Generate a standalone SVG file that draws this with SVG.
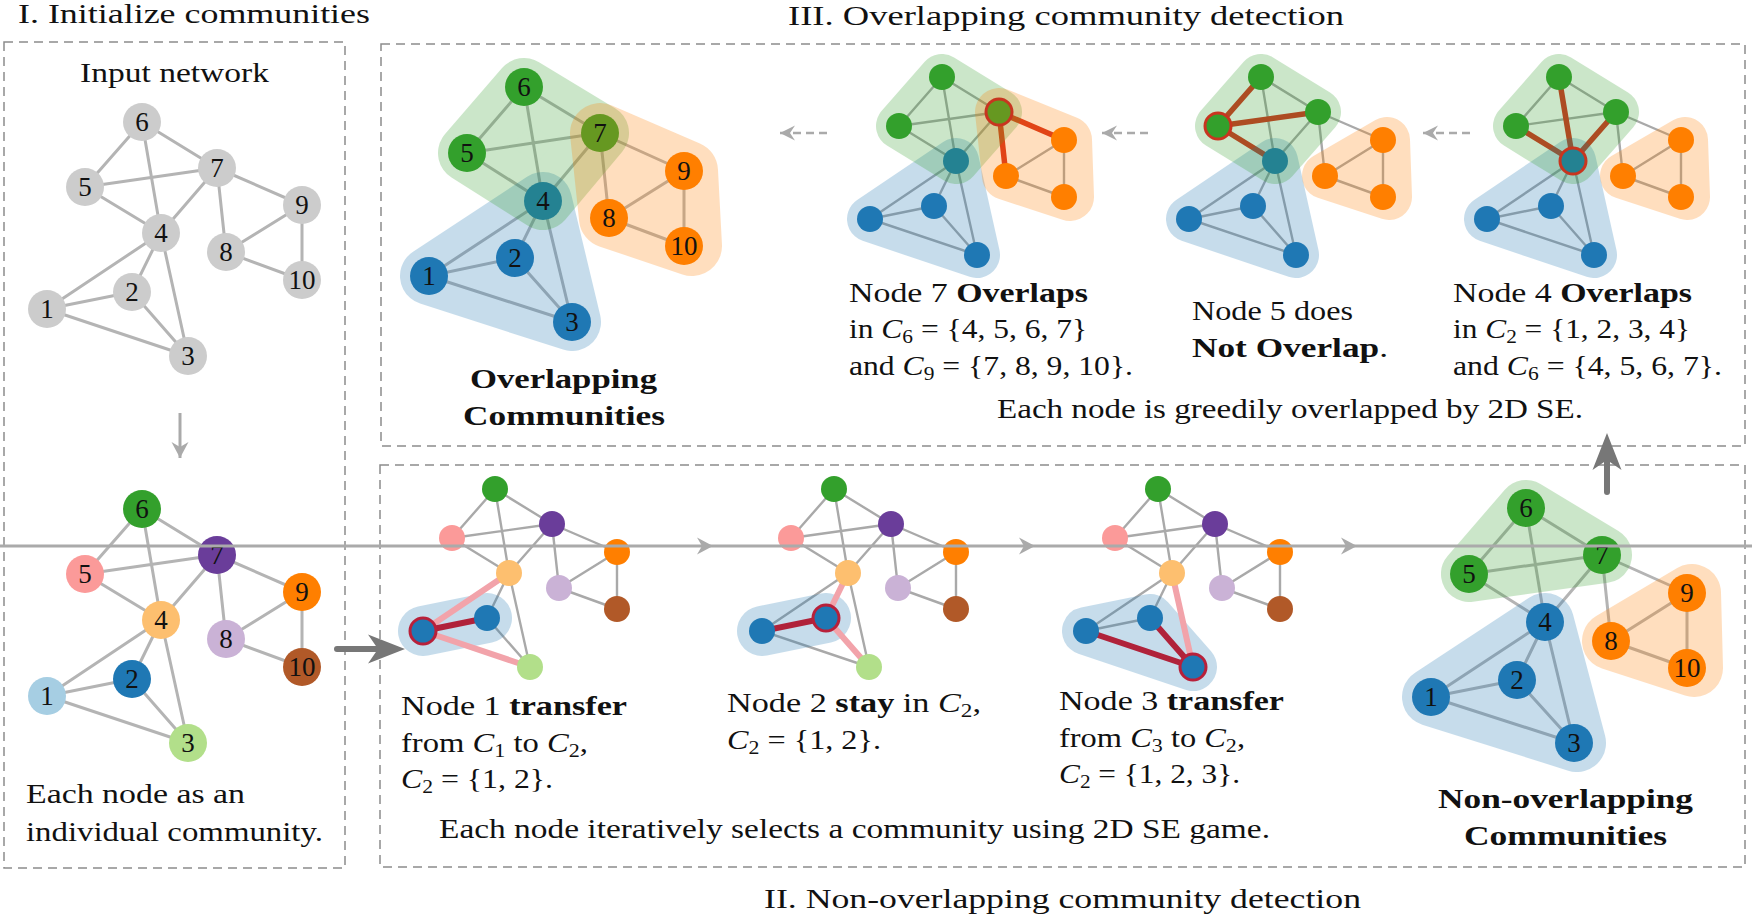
<svg xmlns="http://www.w3.org/2000/svg" width="1752" height="916" viewBox="0 0 1752 916">
<defs>
<style>
.box{fill:none;stroke:#8c8c8c;stroke-width:1.5;stroke-dasharray:9 6}
.e{fill:none;stroke:#b4b4b4;stroke-width:3;stroke-linecap:round}
.es{fill:none;stroke:#a9a9a9;stroke-width:2.4;stroke-linecap:round}
.hr{fill:none;stroke:#d7301f;stroke-width:5.5;stroke-linecap:round}
.pk{fill:none;stroke:#f2a3aa;stroke-width:6;stroke-linecap:round}
.dk{fill:none;stroke:#b0223a;stroke-width:6;stroke-linecap:round}
.hb,.hg,.ho{opacity:.25}
.hb path{fill:#1f78b4;stroke:#1f78b4;stroke-linejoin:round;stroke-linecap:round}
.hg path{fill:#33a02c;stroke:#33a02c;stroke-linejoin:round;stroke-linecap:round}
.ho path{fill:#ff7f00;stroke:#ff7f00;stroke-linejoin:round;stroke-linecap:round}
.sel{stroke:#c8351f;stroke-width:3}
.sel2{stroke:#b8203a;stroke-width:3}
.lbl{font-family:"Liberation Serif","Times New Roman",serif;font-size:27px;text-anchor:middle;fill:#111}
.t{font-family:"Liberation Serif","Times New Roman",serif;font-size:28px;fill:#111}
.b{font-weight:bold}
.i{font-style:italic}
.sub{font-size:19px}
.conn{fill:none;stroke:#aaaaaa;stroke-width:3}
.dash{fill:none;stroke:#aaaaaa;stroke-width:2.5;stroke-dasharray:8 5}
.thick{fill:none;stroke:#777777;stroke-width:6;stroke-linecap:round}
.g0{fill:#cccccc}.c1{fill:#a6cee3}.c2{fill:#1f78b4}.c3{fill:#b2df8a}.c4{fill:#fdbf6f}.c5{fill:#fb9a99}
.c6{fill:#33a02c}.c7{fill:#6a3d9a}.c8{fill:#cab2d6}.c9{fill:#ff7f00}.c10{fill:#b15928}
.teal{fill:#248292}.olive{fill:#669821}
</style>
<marker id="stealth" markerUnits="userSpaceOnUse" markerWidth="18" markerHeight="18" refX="16" refY="8.5" orient="auto" overflow="visible"><path d="M0,0 L16,8.5 L0,17 L5,8.5 Z" fill="#aaaaaa"/></marker>
<marker id="dhead" markerUnits="userSpaceOnUse" markerWidth="16" markerHeight="16" refX="15" refY="7.5" orient="auto" overflow="visible"><path d="M0,0 L15,7.5 L0,15 L5,7.5 Z" fill="#aaaaaa"/></marker>
<marker id="big" markerUnits="userSpaceOnUse" markerWidth="40" markerHeight="30" refX="27" refY="14.5" orient="auto" overflow="visible"><path d="M0,0 L37,14.5 L0,29 L10,14.5 Z" fill="#777777"/></marker>
</defs>
<rect width="1752" height="916" fill="#ffffff"/>

<g id="frames">
<rect class="box" x="4" y="42" width="341" height="826"/>
<rect class="box" x="381" y="44" width="1364" height="402"/>
<rect class="box" x="380" y="465" width="1365" height="402"/>
</g>

<g id="titles">
<text class="t" x="18" y="23" textLength="352" lengthAdjust="spacingAndGlyphs">I. Initialize communities</text>
<text class="t" x="788" y="25" textLength="556" lengthAdjust="spacingAndGlyphs">III. Overlapping community detection</text>
<text class="t" x="764" y="908" textLength="597" lengthAdjust="spacingAndGlyphs">II. Non-overlapping community detection</text>
</g>

<!-- Input network -->
<g id="input-network">
<text class="t" x="80" y="82" textLength="189" lengthAdjust="spacingAndGlyphs">Input network</text>
<path class="e" d="M142,122L85,187 M142,122L217,168 M142,122L161,233 M85,187L217,168 M85,187L161,233 M217,168L161,233 M217,168L302,205 M217,168L226,252 M302,205L226,252 M302,205L302,280 M226,252L302,280 M161,233L47,309 M161,233L132,292 M161,233L188,356 M47,309L132,292 M47,309L188,356 M132,292L188,356"/>
<g id="in-n1"><circle class="g0" cx="47" cy="309" r="19"/><text class="lbl" x="47" y="318">1</text></g>
<g id="in-n2"><circle class="g0" cx="132" cy="292" r="19"/><text class="lbl" x="132" y="301">2</text></g>
<g id="in-n3"><circle class="g0" cx="188" cy="356" r="19"/><text class="lbl" x="188" y="365">3</text></g>
<g id="in-n4"><circle class="g0" cx="161" cy="233" r="19"/><text class="lbl" x="161" y="242">4</text></g>
<g id="in-n5"><circle class="g0" cx="85" cy="187" r="19"/><text class="lbl" x="85" y="196">5</text></g>
<g id="in-n6"><circle class="g0" cx="142" cy="122" r="19"/><text class="lbl" x="142" y="131">6</text></g>
<g id="in-n7"><circle class="g0" cx="217" cy="168" r="19"/><text class="lbl" x="217" y="177">7</text></g>
<g id="in-n8"><circle class="g0" cx="226" cy="252" r="19"/><text class="lbl" x="226" y="261">8</text></g>
<g id="in-n9"><circle class="g0" cx="302" cy="205" r="19"/><text class="lbl" x="302" y="214">9</text></g>
<g id="in-n10"><circle class="g0" cx="302" cy="280" r="19"/><text class="lbl" x="302" y="289">10</text></g>
</g>

<!-- Initial communities -->
<g id="init-communities">
<path class="e" d="M142,509L85,574 M142,509L217,555 M142,509L161,620 M85,574L217,555 M85,574L161,620 M217,555L161,620 M217,555L302,592 M217,555L226,639 M302,592L226,639 M302,592L302,667 M226,639L302,667 M161,620L47,696 M161,620L132,679 M161,620L188,743 M47,696L132,679 M47,696L188,743 M132,679L188,743"/>
<g id="ini-n1"><circle class="c1" cx="47" cy="696" r="19"/><text class="lbl" x="47" y="705">1</text></g>
<g id="ini-n2"><circle class="c2" cx="132" cy="679" r="19"/><text class="lbl" x="132" y="688">2</text></g>
<g id="ini-n3"><circle class="c3" cx="188" cy="743" r="19"/><text class="lbl" x="188" y="752">3</text></g>
<g id="ini-n4"><circle class="c4" cx="161" cy="620" r="19"/><text class="lbl" x="161" y="629">4</text></g>
<g id="ini-n5"><circle class="c5" cx="85" cy="574" r="19"/><text class="lbl" x="85" y="583">5</text></g>
<g id="ini-n6"><circle class="c6" cx="142" cy="509" r="19"/><text class="lbl" x="142" y="518">6</text></g>
<g id="ini-n7"><circle class="c7" cx="217" cy="555" r="19"/><text class="lbl" x="217" y="564">7</text></g>
<g id="ini-n8"><circle class="c8" cx="226" cy="639" r="19"/><text class="lbl" x="226" y="648">8</text></g>
<g id="ini-n9"><circle class="c9" cx="302" cy="592" r="19"/><text class="lbl" x="302" y="601">9</text></g>
<g id="ini-n10"><circle class="c10" cx="302" cy="667" r="19"/><text class="lbl" x="302" y="676">10</text></g>
<text class="t" x="26" y="803" textLength="219" lengthAdjust="spacingAndGlyphs">Each node as an</text>
<text class="t" x="26" y="841" textLength="297" lengthAdjust="spacingAndGlyphs">individual community.</text>
</g>

<!-- Overlapping communities (final) -->
<g id="overlapping-result">
<path class="e" d="M524,87L467,153 M524,87L600,133 M524,87L543,201 M467,153L600,133 M467,153L543,201 M600,133L543,201 M600,133L684,171 M600,133L609,218 M684,171L609,218 M684,171L684,246 M609,218L684,246 M543,201L429,276 M543,201L515,258 M543,201L572,322 M429,276L515,258 M429,276L572,322 M515,258L572,322"/>
<g class="hb"><path d="M429,276 L543,201 L572,322 Z" stroke-width="58"/></g>
<g class="hg"><path d="M524,87 L600,133 L543,201 L467,153 Z" stroke-width="58"/></g>
<g class="ho"><path d="M600,133 L688,171 L692,246 L609,218 Z" stroke-width="60"/></g>
<g id="ov-n1"><circle class="c2" cx="429" cy="276" r="19"/><text class="lbl" x="429" y="285">1</text></g>
<g id="ov-n2"><circle class="c2" cx="515" cy="258" r="19"/><text class="lbl" x="515" y="267">2</text></g>
<g id="ov-n3"><circle class="c2" cx="572" cy="322" r="19"/><text class="lbl" x="572" y="331">3</text></g>
<g id="ov-n4"><circle class="teal" cx="543" cy="201" r="19"/><text class="lbl" x="543" y="210" fill="#1c3a3a">4</text></g>
<g id="ov-n5"><circle class="c6" cx="467" cy="153" r="19"/><text class="lbl" x="467" y="162">5</text></g>
<g id="ov-n6"><circle class="c6" cx="524" cy="87" r="19"/><text class="lbl" x="524" y="96">6</text></g>
<g id="ov-n7"><circle class="olive" cx="600" cy="133" r="19"/><text class="lbl" x="600" y="142" fill="#2a3a10">7</text></g>
<g id="ov-n8"><circle class="c9" cx="609" cy="218" r="19"/><text class="lbl" x="609" y="227">8</text></g>
<g id="ov-n9"><circle class="c9" cx="684" cy="171" r="19"/><text class="lbl" x="684" y="180">9</text></g>
<g id="ov-n10"><circle class="c9" cx="684" cy="246" r="19"/><text class="lbl" x="684" y="255">10</text></g>
<text class="t b" x="470" y="388" textLength="187" lengthAdjust="spacingAndGlyphs">Overlapping</text>
<text class="t b" x="463" y="425" textLength="202" lengthAdjust="spacingAndGlyphs">Communities</text>
</g>

<!-- Node 7 overlaps -->
<g id="step-node7">
<path class="es" d="M942,77L899,126 M942,77L999,112 M942,77L956,161 M899,126L999,112 M899,126L956,161 M999,112L956,161 M1064,140L1006,176 M1064,140L1064,197 M1006,176L1064,197 M956,161L870,219 M956,161L934,206 M956,161L977,255 M870,219L934,206 M870,219L977,255 M934,206L977,255"/>
<path class="hr" d="M999,112L1064,140 M999,112L1006,176"/>
<g class="hb"><path d="M870,219 L956,161 L977,255 Z" stroke-width="46"/></g>
<g class="hg"><path d="M942,77 L999,112 L956,161 L899,126 Z" stroke-width="46"/></g>
<g class="ho"><path d="M999,112 L1068,140 L1070,197 L1006,176 Z" stroke-width="48"/></g>
<circle id="s7-n1" class="c2" cx="870" cy="219" r="13"/>
<circle id="s7-n2" class="c2" cx="934" cy="206" r="13"/>
<circle id="s7-n3" class="c2" cx="977" cy="255" r="13"/>
<circle id="s7-n4" class="teal" cx="956" cy="161" r="13"/>
<circle id="s7-n5" class="c6" cx="899" cy="126" r="13"/>
<circle id="s7-n6" class="c6" cx="942" cy="77" r="13"/>
<circle id="s7-n7" class="olive sel" cx="999" cy="112" r="13"/>
<circle id="s7-n8" class="c9" cx="1006" cy="176" r="13"/>
<circle id="s7-n9" class="c9" cx="1064" cy="140" r="13"/>
<circle id="s7-n10" class="c9" cx="1064" cy="197" r="13"/>
<text class="t" x="849" y="302" textLength="239" lengthAdjust="spacingAndGlyphs">Node 7 <tspan class="b">Overlaps</tspan></text>
<text class="t" x="849" y="338" textLength="238" lengthAdjust="spacingAndGlyphs">in <tspan class="i">C</tspan><tspan class="sub" dy="5">6</tspan><tspan dy="-5"> = {4, 5, 6, 7}</tspan></text>
<text class="t" x="849" y="375" textLength="284" lengthAdjust="spacingAndGlyphs">and <tspan class="i">C</tspan><tspan class="sub" dy="5">9</tspan><tspan dy="-5"> = {7, 8, 9, 10}.</tspan></text>
</g>

<!-- Node 5 does not overlap -->
<g id="step-node5">
<path class="es" d="M1261,77L1218,126 M1261,77L1318,112 M1261,77L1275,161 M1218,126L1318,112 M1218,126L1275,161 M1318,112L1275,161 M1318,112L1383,140 M1318,112L1325,176 M1383,140L1325,176 M1383,140L1383,197 M1325,176L1383,197 M1275,161L1189,219 M1275,161L1253,206 M1275,161L1296,255 M1189,219L1253,206 M1189,219L1296,255 M1253,206L1296,255"/>
<path class="hr" d="M1218,126L1261,77 M1218,126L1318,112 M1218,126L1275,161"/>
<g class="hb"><path d="M1189,219 L1275,161 L1296,255 Z" stroke-width="46"/></g>
<g class="hg"><path d="M1261,77 L1318,112 L1275,161 L1218,126 Z" stroke-width="46"/></g>
<g class="ho"><path d="M1387,140 L1389,197 L1325,176 Z" stroke-width="46"/></g>
<circle id="s5-n1" class="c2" cx="1189" cy="219" r="13"/>
<circle id="s5-n2" class="c2" cx="1253" cy="206" r="13"/>
<circle id="s5-n3" class="c2" cx="1296" cy="255" r="13"/>
<circle id="s5-n4" class="teal" cx="1275" cy="161" r="13"/>
<circle id="s5-n5" class="c6 sel" cx="1218" cy="126" r="13"/>
<circle id="s5-n6" class="c6" cx="1261" cy="77" r="13"/>
<circle id="s5-n7" class="c6" cx="1318" cy="112" r="13"/>
<circle id="s5-n8" class="c9" cx="1325" cy="176" r="13"/>
<circle id="s5-n9" class="c9" cx="1383" cy="140" r="13"/>
<circle id="s5-n10" class="c9" cx="1383" cy="197" r="13"/>
<text class="t" x="1192" y="320" textLength="161" lengthAdjust="spacingAndGlyphs">Node 5 does</text>
<text class="t" x="1192" y="357" textLength="196" lengthAdjust="spacingAndGlyphs"><tspan class="b">Not Overlap</tspan>.</text>
</g>

<!-- Node 4 overlaps -->
<g id="step-node4">
<path class="es" d="M1559,77L1616,112 M1516,126L1616,112 M1616,112L1681,140 M1616,112L1623,176 M1681,140L1623,176 M1681,140L1681,197 M1623,176L1681,197 M1559,77L1516,126 M1573,161L1487,219 M1573,161L1551,206 M1573,161L1594,255 M1487,219L1551,206 M1487,219L1594,255 M1551,206L1594,255"/>
<path class="hr" d="M1573,161L1559,77 M1573,161L1516,126 M1573,161L1616,112"/>
<g class="hb"><path d="M1487,219 L1573,161 L1594,255 Z" stroke-width="46"/></g>
<g class="hg"><path d="M1559,77 L1616,112 L1573,161 L1516,126 Z" stroke-width="46"/></g>
<g class="ho"><path d="M1685,140 L1687,197 L1623,176 Z" stroke-width="46"/></g>
<circle id="s4-n1" class="c2" cx="1487" cy="219" r="13"/>
<circle id="s4-n2" class="c2" cx="1551" cy="206" r="13"/>
<circle id="s4-n3" class="c2" cx="1594" cy="255" r="13"/>
<circle id="s4-n4" class="teal sel" cx="1573" cy="161" r="13"/>
<circle id="s4-n5" class="c6" cx="1516" cy="126" r="13"/>
<circle id="s4-n6" class="c6" cx="1559" cy="77" r="13"/>
<circle id="s4-n7" class="c6" cx="1616" cy="112" r="13"/>
<circle id="s4-n8" class="c9" cx="1623" cy="176" r="13"/>
<circle id="s4-n9" class="c9" cx="1681" cy="140" r="13"/>
<circle id="s4-n10" class="c9" cx="1681" cy="197" r="13"/>
<text class="t" x="1453" y="302" textLength="239" lengthAdjust="spacingAndGlyphs">Node 4 <tspan class="b">Overlaps</tspan></text>
<text class="t" x="1453" y="338" textLength="237" lengthAdjust="spacingAndGlyphs">in <tspan class="i">C</tspan><tspan class="sub" dy="5">2</tspan><tspan dy="-5"> = {1, 2, 3, 4}</tspan></text>
<text class="t" x="1453" y="375" textLength="269" lengthAdjust="spacingAndGlyphs">and <tspan class="i">C</tspan><tspan class="sub" dy="5">6</tspan><tspan dy="-5"> = {4, 5, 6, 7}.</tspan></text>
</g>
<text class="t" x="997" y="418" textLength="586" lengthAdjust="spacingAndGlyphs">Each node is greedily overlapped by 2D SE.</text>

<!-- Step II-a: node 1 transfer -->
<g id="step-node1">
<path class="es" d="M495,489L452,538 M495,489L552,524 M495,489L509,573 M452,538L552,524 M452,538L509,573 M552,524L509,573 M552,524L617,552 M552,524L559,588 M617,552L559,588 M617,552L617,609 M559,588L617,609 M509,573L487,618 M509,573L530,667 M487,618L530,667"/>
<g class="hb"><path d="M423,631 L487,618" stroke-width="50"/></g>
<path class="pk" d="M423,631L509,573 M423,631L530,667"/>
<path class="dk" d="M423,631L487,618"/>
<circle id="a-n1" class="c2 sel2" cx="423" cy="631" r="13"/>
<circle id="a-n2" class="c2" cx="487" cy="618" r="13"/>
<circle id="a-n3" class="c3" cx="530" cy="667" r="13"/>
<circle id="a-n4" class="c4" cx="509" cy="573" r="13"/>
<circle id="a-n5" class="c5" cx="452" cy="538" r="13"/>
<circle id="a-n6" class="c6" cx="495" cy="489" r="13"/>
<circle id="a-n7" class="c7" cx="552" cy="524" r="13"/>
<circle id="a-n8" class="c8" cx="559" cy="588" r="13"/>
<circle id="a-n9" class="c9" cx="617" cy="552" r="13"/>
<circle id="a-n10" class="c10" cx="617" cy="609" r="13"/>
<text class="t" x="401" y="715" textLength="226" lengthAdjust="spacingAndGlyphs">Node 1 <tspan class="b">transfer</tspan></text>
<text class="t" x="401" y="752" textLength="187" lengthAdjust="spacingAndGlyphs">from <tspan class="i">C</tspan><tspan class="sub" dy="5">1</tspan><tspan dy="-5"> to </tspan><tspan class="i">C</tspan><tspan class="sub" dy="5">2</tspan><tspan dy="-5">,</tspan></text>
<text class="t" x="401" y="788" textLength="152" lengthAdjust="spacingAndGlyphs"><tspan class="i">C</tspan><tspan class="sub" dy="5">2</tspan><tspan dy="-5"> = {1, 2}.</tspan></text>
</g>

<!-- Step II-b: node 2 stay -->
<g id="step-node2">
<path class="es" d="M834,489L791,538 M834,489L891,524 M834,489L848,573 M791,538L891,524 M791,538L848,573 M891,524L848,573 M891,524L956,552 M891,524L898,588 M956,552L898,588 M956,552L956,609 M898,588L956,609 M848,573L762,631 M848,573L869,667 M762,631L869,667"/>
<g class="hb"><path d="M762,631 L826,618" stroke-width="50"/></g>
<path class="pk" d="M826,618L848,573 M826,618L869,667"/>
<path class="dk" d="M826,618L762,631"/>
<circle id="b-n1" class="c2" cx="762" cy="631" r="13"/>
<circle id="b-n2" class="c2 sel2" cx="826" cy="618" r="13"/>
<circle id="b-n3" class="c3" cx="869" cy="667" r="13"/>
<circle id="b-n4" class="c4" cx="848" cy="573" r="13"/>
<circle id="b-n5" class="c5" cx="791" cy="538" r="13"/>
<circle id="b-n6" class="c6" cx="834" cy="489" r="13"/>
<circle id="b-n7" class="c7" cx="891" cy="524" r="13"/>
<circle id="b-n8" class="c8" cx="898" cy="588" r="13"/>
<circle id="b-n9" class="c9" cx="956" cy="552" r="13"/>
<circle id="b-n10" class="c10" cx="956" cy="609" r="13"/>
<text class="t" x="727" y="712" textLength="254" lengthAdjust="spacingAndGlyphs">Node 2 <tspan class="b">stay</tspan> in <tspan class="i">C</tspan><tspan class="sub" dy="5">2</tspan><tspan dy="-5">,</tspan></text>
<text class="t" x="727" y="749" textLength="154" lengthAdjust="spacingAndGlyphs"><tspan class="i">C</tspan><tspan class="sub" dy="5">2</tspan><tspan dy="-5"> = {1, 2}.</tspan></text>
</g>

<!-- Step II-c: node 3 transfer -->
<g id="step-node3">
<path class="es" d="M1158,489L1115,538 M1158,489L1215,524 M1158,489L1172,573 M1115,538L1215,524 M1115,538L1172,573 M1215,524L1172,573 M1215,524L1280,552 M1215,524L1222,588 M1280,552L1222,588 M1280,552L1280,609 M1222,588L1280,609 M1172,573L1086,631 M1172,573L1150,618 M1086,631L1150,618"/>
<g class="hb"><path d="M1086,631 L1150,618 L1193,667 Z" stroke-width="48"/></g>
<path class="pk" d="M1193,667L1172,573"/>
<path class="dk" d="M1193,667L1086,631 M1193,667L1150,618"/>
<circle id="c-n1" class="c2" cx="1086" cy="631" r="13"/>
<circle id="c-n2" class="c2" cx="1150" cy="618" r="13"/>
<circle id="c-n3" class="c2 sel2" cx="1193" cy="667" r="13"/>
<circle id="c-n4" class="c4" cx="1172" cy="573" r="13"/>
<circle id="c-n5" class="c5" cx="1115" cy="538" r="13"/>
<circle id="c-n6" class="c6" cx="1158" cy="489" r="13"/>
<circle id="c-n7" class="c7" cx="1215" cy="524" r="13"/>
<circle id="c-n8" class="c8" cx="1222" cy="588" r="13"/>
<circle id="c-n9" class="c9" cx="1280" cy="552" r="13"/>
<circle id="c-n10" class="c10" cx="1280" cy="609" r="13"/>
<text class="t" x="1059" y="710" textLength="225" lengthAdjust="spacingAndGlyphs">Node 3 <tspan class="b">transfer</tspan></text>
<text class="t" x="1059" y="747" textLength="186" lengthAdjust="spacingAndGlyphs">from <tspan class="i">C</tspan><tspan class="sub" dy="5">3</tspan><tspan dy="-5"> to </tspan><tspan class="i">C</tspan><tspan class="sub" dy="5">2</tspan><tspan dy="-5">,</tspan></text>
<text class="t" x="1059" y="783" textLength="181" lengthAdjust="spacingAndGlyphs"><tspan class="i">C</tspan><tspan class="sub" dy="5">2</tspan><tspan dy="-5"> = {1, 2, 3}.</tspan></text>
</g>
<text class="t" x="439" y="838" textLength="831" lengthAdjust="spacingAndGlyphs">Each node iteratively selects a community using 2D SE game.</text>

<!-- Non-overlapping result -->
<g id="nonoverlapping-result">
<path class="e" d="M1526,508L1469,574 M1526,508L1602,555 M1526,508L1545,622 M1469,574L1602,555 M1469,574L1545,622 M1602,555L1545,622 M1602,555L1687,593 M1602,555L1611,641 M1687,593L1611,641 M1687,593L1687,668 M1611,641L1687,668 M1545,622L1431,697 M1545,622L1517,680 M1545,622L1574,743 M1431,697L1517,680 M1431,697L1574,743 M1517,680L1574,743"/>
<g class="hg"><path d="M1526,508 L1604,555 L1469,574 Z" stroke-width="56"/></g>
<g class="hb"><path d="M1431,697 L1545,622 L1577,743 Z" stroke-width="58"/></g>
<g class="ho"><path d="M1611,641 L1692,593 L1694,668 Z" stroke-width="58"/></g>
<g id="no-n1"><circle class="c2" cx="1431" cy="697" r="19"/><text class="lbl" x="1431" y="706">1</text></g>
<g id="no-n2"><circle class="c2" cx="1517" cy="680" r="19"/><text class="lbl" x="1517" y="689">2</text></g>
<g id="no-n3"><circle class="c2" cx="1574" cy="743" r="19"/><text class="lbl" x="1574" y="752">3</text></g>
<g id="no-n4"><circle class="c2" cx="1545" cy="622" r="19"/><text class="lbl" x="1545" y="631">4</text></g>
<g id="no-n5"><circle class="c6" cx="1469" cy="574" r="19"/><text class="lbl" x="1469" y="583">5</text></g>
<g id="no-n6"><circle class="c6" cx="1526" cy="508" r="19"/><text class="lbl" x="1526" y="517">6</text></g>
<g id="no-n7"><circle class="c6" cx="1602" cy="555" r="19"/><text class="lbl" x="1602" y="564">7</text></g>
<g id="no-n8"><circle class="c9" cx="1611" cy="641" r="19"/><text class="lbl" x="1611" y="650">8</text></g>
<g id="no-n9"><circle class="c9" cx="1687" cy="593" r="19"/><text class="lbl" x="1687" y="602">9</text></g>
<g id="no-n10"><circle class="c9" cx="1687" cy="668" r="19"/><text class="lbl" x="1687" y="677">10</text></g>
<text class="t b" x="1438" y="808" textLength="255" lengthAdjust="spacingAndGlyphs">Non-overlapping</text>
<text class="t b" x="1464" y="845" textLength="203" lengthAdjust="spacingAndGlyphs">Communities</text>
</g>

<!-- Connectors -->
<g id="connectors">
<path class="conn" d="M0,546 L713,546 L1035,546 L1357,546 L1752,546" marker-mid="url(#stealth)"/>
<path class="conn" d="M180,413 L180,458" marker-end="url(#stealth)"/>
<path class="thick" d="M337,649 L395,649" marker-end="url(#big)"/>
<path class="thick" d="M1607,492 L1607,443" marker-end="url(#big)"/>
<path class="dash" d="M827,133 L780,133" marker-end="url(#dhead)"/>
<path class="dash" d="M1148,133 L1102,133" marker-end="url(#dhead)"/>
<path class="dash" d="M1470,133 L1423,133" marker-end="url(#dhead)"/>
</g>
</svg>
